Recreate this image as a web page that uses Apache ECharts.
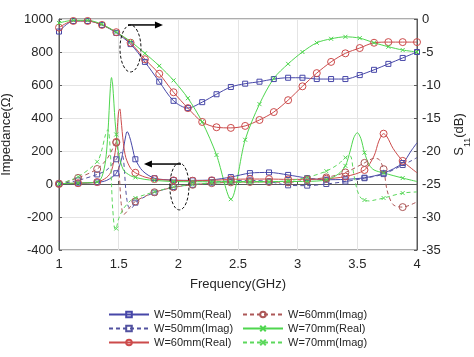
<!DOCTYPE html>
<html><head><meta charset="utf-8">
<script src="https://cdn.jsdelivr.net/npm/echarts@6/dist/echarts.min.js"></script>
<style>html,body{margin:0;padding:0;background:#fff}#c{width:474px;height:357px}</style>
</head><body><div id="c"></div>
<script>
// ---- Impedance data (left axis, Ohm) ----
const impMarkerFreqs = [1.00,1.16,1.32,1.48,1.64,1.80,1.96,2.12,2.28,2.44,2.60,2.76,2.92,3.08,3.24,3.40,3.56,3.72,3.88];

const freqW50 = [1.00,1.16,1.32,1.40,1.48,1.52,1.54,1.56,1.57,1.58,1.60,1.62,1.64,1.70,1.80,1.96,2.12,2.28,2.44,2.60,2.76,2.92,3.08,3.24,3.40,3.56,3.72,3.88,3.95,4.00];
const realW50 = [2,4,10,22,65,140,215,295,317,310,265,205,150,80,35,24,22,25,42,66,70,55,36,26,28,38,65,127,200,250];
const imagW50 = [0,22,58,85,150,192,150,-40,-100,-135,-150,-138,-113,-85,-52,-18,-5,8,20,22,15,-8,-10,0,15,35,60,115,140,160];

const freqW60 = [1.00,1.16,1.32,1.40,1.44,1.47,1.48,1.49,1.50,1.51,1.52,1.54,1.56,1.60,1.64,1.72,1.80,1.96,2.12,2.28,2.44,2.60,2.76,2.92,3.08,3.24,3.40,3.56,3.64,3.68,3.72,3.75,3.80,3.88,4.00];
const realW60 = [2,5,12,40,80,190,255,350,440,455,390,245,160,95,68,42,30,22,20,22,28,30,30,28,28,32,45,85,170,260,305,285,215,140,68];
const imagW60 = [0,37,91,150,200,245,250,215,120,0,-110,-185,-175,-135,-105,-75,-50,-20,-5,5,10,12,12,10,25,40,70,128,155,150,90,-40,-125,-140,-108];

const freqW70 = [1.00,1.16,1.32,1.36,1.39,1.41,1.43,1.44,1.45,1.47,1.48,1.50,1.54,1.60,1.64,1.72,1.80,1.96,2.12,2.28,2.44,2.60,2.76,2.92,3.08,3.24,3.34,3.40,3.44,3.47,3.50,3.53,3.56,3.60,3.64,3.72,3.88,4.00];
const realW70 = [2,6,12,45,140,310,580,645,600,380,300,185,85,50,40,28,22,15,14,14,15,15,15,15,16,25,60,110,200,280,311,275,190,115,85,67,36,15];
const imagW70 = [0,44,135,210,300,330,200,0,-150,-275,-270,-210,-150,-100,-85,-65,-48,-18,-3,5,8,10,12,20,40,78,120,160,170,60,-40,-85,-97,-103,-98,-85,-55,-48];

// ---- S11 data (right axis, dB) ----
const freqS11 = [1.00,1.12,1.24,1.36,1.48,1.60,1.72,1.84,1.96,2.08,2.20,2.32,2.44,2.56,2.68,2.80,2.92,3.04,3.16,3.28,3.40,3.52,3.64,3.76,3.88,4.00];
const s11W50 = [-1.9,-0.3,-0.3,-0.9,-2.1,-3.8,-6.5,-9.5,-12.4,-13.5,-12.6,-11.4,-10.3,-9.8,-9.5,-9.1,-8.9,-8.9,-9.1,-9.1,-9.1,-8.5,-7.7,-6.8,-5.9,-5.0];
const s11W60 = [-1.3,-0.3,-0.3,-0.9,-2.0,-3.6,-6.1,-8.3,-11.1,-13.5,-15.6,-16.4,-16.5,-16.2,-15.3,-14.1,-12.3,-10.2,-8.2,-6.5,-5.2,-4.4,-3.6,-3.5,-3.5,-3.5];
const s11W70 = [-0.6,-0.2,-0.2,-0.8,-2.0,-3.4,-5.2,-7.1,-9.3,-12.0,-15.6,-20.6,-27.3,-18.3,-12.9,-9.0,-6.8,-5.0,-3.6,-3.0,-2.7,-2.9,-3.6,-4.2,-4.7,-5.0];

// ---- axes ----
const freqTicks = [1, 1.5, 2, 2.5, 3, 3.5, 4];
const impTicks = [-400, -200, 0, 200, 400, 600, 800, 1000];
const dbTicks = [-35, -30, -25, -20, -15, -10, -5, 0];

const legendCol1 = ['W=50mm(Real)', 'W=50mm(Imag)', 'W=60mm(Real)'];
const legendCol2 = ['W=60mm(Imag)', 'W=70mm(Real)', 'W=70mm(Imag)'];

const BLUE = '#4747a8', BLUE_D = '#5252a0';
const RED = '#cc4b4b', RED_D = '#ad5858';
const GREEN = '#4ed64e', GREEN_D = '#5cd85c';
const CROSS = 'path://M0,0L10,10M10,0L0,10';

function zip(xs, ys) { return xs.map((x, i) => [x, ys[i]]); }
function isIn(list, f) { return list.some(m => Math.abs(m - f) < 1e-6); }

function mk(name, xs, ys, color, dashed, symbol, size, yIdx, markers) {
  return {
    name: name, type: 'line', yAxisIndex: yIdx, data: zip(xs, ys),
    smooth: 0.3, showAllSymbol: true,
    symbol: symbol,
    symbolSize: markers ? function (v) { return isIn(markers, v[0]) ? size : 0; } : size,
    lineStyle: { color: color, width: 1, type: dashed ? [4, 3] : 'solid' },
    itemStyle: { color: 'rgba(255,255,255,0)', borderColor: color, borderWidth: 1 },
    emphasis: { disabled: true }, animation: false, z: 3
  };
}

const chart = echarts.init(document.getElementById('c'), null, { renderer: 'canvas' });
const legends = [];
const rowTops = [309, 323, 337];
[[legendCol1, 108], [legendCol2, 242]].forEach(([names, left]) => {
  names.forEach((n, i) => {
    legends.push({
      left: left, top: rowTops[i], padding: 0, data: [n],
      itemWidth: 40, itemHeight: 7, selectedMode: false,
      textStyle: { fontSize: 11, color: '#262626', fontFamily: 'Liberation Sans, Arial, sans-serif', padding: [0, 0, 0, 0] }
    });
  });
});
const noComma = v => String(v);
chart.setOption({
  backgroundColor: '#fff',
  animation: false,
  textStyle: { fontFamily: 'Liberation Sans, Arial, sans-serif' },
  grid: { left: 59, right: 57, top: 19, bottom: 107, outerBoundsMode: 'none', containLabel: false,
    show: true, borderColor: '#5a5a5a', borderWidth: 1, backgroundColor: 'transparent' },
  legend: legends,
  xAxis: {
    type: 'value', min: freqTicks[0], max: freqTicks[freqTicks.length - 1], interval: 0.5,
    name: 'Frequency(GHz)', nameLocation: 'middle', nameGap: 28,
    nameTextStyle: { fontSize: 13, color: '#262626' },
    axisLine: { lineStyle: { color: '#5a5a5a' } },
    axisTick: { inside: true, length: 3, lineStyle: { color: '#5a5a5a' } },
    axisLabel: { fontSize: 13, color: '#262626', margin: 8, formatter: noComma },
    splitLine: { show: true, lineStyle: { color: '#e4e4e4' } }
  },
  yAxis: [{
    type: 'value', min: impTicks[0], max: impTicks[impTicks.length - 1], interval: 200,
    name: 'Impedance(Ω)', nameLocation: 'middle', nameGap: 39,
    nameTextStyle: { fontSize: 13, color: '#262626' },
    axisLine: { show: true, lineStyle: { color: '#5a5a5a' } },
    axisTick: { show: true, inside: true, length: 3, lineStyle: { color: '#5a5a5a' } },
    axisLabel: { fontSize: 13, color: '#262626', margin: 6, formatter: noComma },
    splitLine: { show: true, lineStyle: { color: '#e4e4e4' } }
  }, {
    type: 'value', position: 'right', min: dbTicks[0], max: dbTicks[dbTicks.length - 1], interval: 5,
    name: '{s|S}{sub|11}{s|(dB)}', nameLocation: 'middle', nameGap: 36,
    nameTextStyle: { fontSize: 13, color: '#262626',
      rich: { s: { fontSize: 13, color: '#262626' }, sub: { fontSize: 9, color: '#262626', verticalAlign: 'bottom', padding: [0, 0, -6, 0] } } },
    axisLine: { show: true, lineStyle: { color: '#5a5a5a' } },
    axisTick: { show: true, inside: true, length: 3, lineStyle: { color: '#5a5a5a' } },
    axisLabel: { fontSize: 13, color: '#262626', margin: 5, formatter: noComma },
    splitLine: { show: false }
  }],
  series: [
    mk('S11 W=50mm', freqS11, s11W50, BLUE, false, 'rect', 5, 1, null),
    mk('S11 W=60mm', freqS11, s11W60, RED, false, 'circle', 7, 1, null),
    mk('S11 W=70mm', freqS11, s11W70, GREEN, false, CROSS, 4, 1, null),
    mk('W=50mm(Real)', freqW50, realW50, BLUE, false, 'rect', 5, 0, impMarkerFreqs),
    mk('W=50mm(Imag)', freqW50, imagW50, BLUE_D, true, 'rect', 5, 0, impMarkerFreqs),
    mk('W=60mm(Real)', freqW60, realW60, RED, false, 'circle', 7, 0, impMarkerFreqs),
    mk('W=60mm(Imag)', freqW60, imagW60, RED_D, true, 'circle', 7, 0, impMarkerFreqs),
    mk('W=70mm(Real)', freqW70, realW70, GREEN, false, CROSS, 4, 0, impMarkerFreqs),
    mk('W=70mm(Imag)', freqW70, imagW70, GREEN_D, true, CROSS, 4, 0, impMarkerFreqs)
  ]
});

// ---- annotations (dashed ellipses + arrows), placed in data units ----
const ellipses = [
  { f: 1.599, z: 821, df: 0.088, dz: 142 },
  { f: 2.009, z: -15, df: 0.080, dz: 142 }
];
const arrows = [
  { f0: 1.578, f1: 1.871, z: 964 },
  { f0: 2.022, f1: 1.712, z: 121 }
];
function px(f, z) { return chart.convertToPixel({ xAxisIndex: 0, yAxisIndex: 0 }, [f, z]); }
const g = [];
ellipses.forEach(e => {
  const c = px(e.f, e.z), r = px(e.f + e.df, e.z - e.dz);
  g.push({ type: 'ellipse', shape: { cx: c[0], cy: c[1], rx: r[0] - c[0], ry: r[1] - c[1] },
    style: { fill: 'none', stroke: '#111', lineWidth: 1, lineDash: [3, 2] }, z: 100 });
});
arrows.forEach(a => {
  const p0 = px(a.f0, a.z), p1 = px(a.f1, a.z);
  const dir = p1[0] > p0[0] ? 1 : -1, L = 8, W = 3.5;
  g.push({ type: 'line', shape: { x1: p0[0], y1: p0[1], x2: p1[0] - dir * L, y2: p1[1] },
    style: { stroke: '#000', lineWidth: 1.5 }, z: 100 });
  g.push({ type: 'polygon', shape: { points: [[p1[0], p1[1]], [p1[0] - dir * L, p1[1] - W], [p1[0] - dir * L, p1[1] + W]] },
    style: { fill: '#000' }, z: 100 });
});
chart.setOption({ graphic: g });
</script>
</body></html>
